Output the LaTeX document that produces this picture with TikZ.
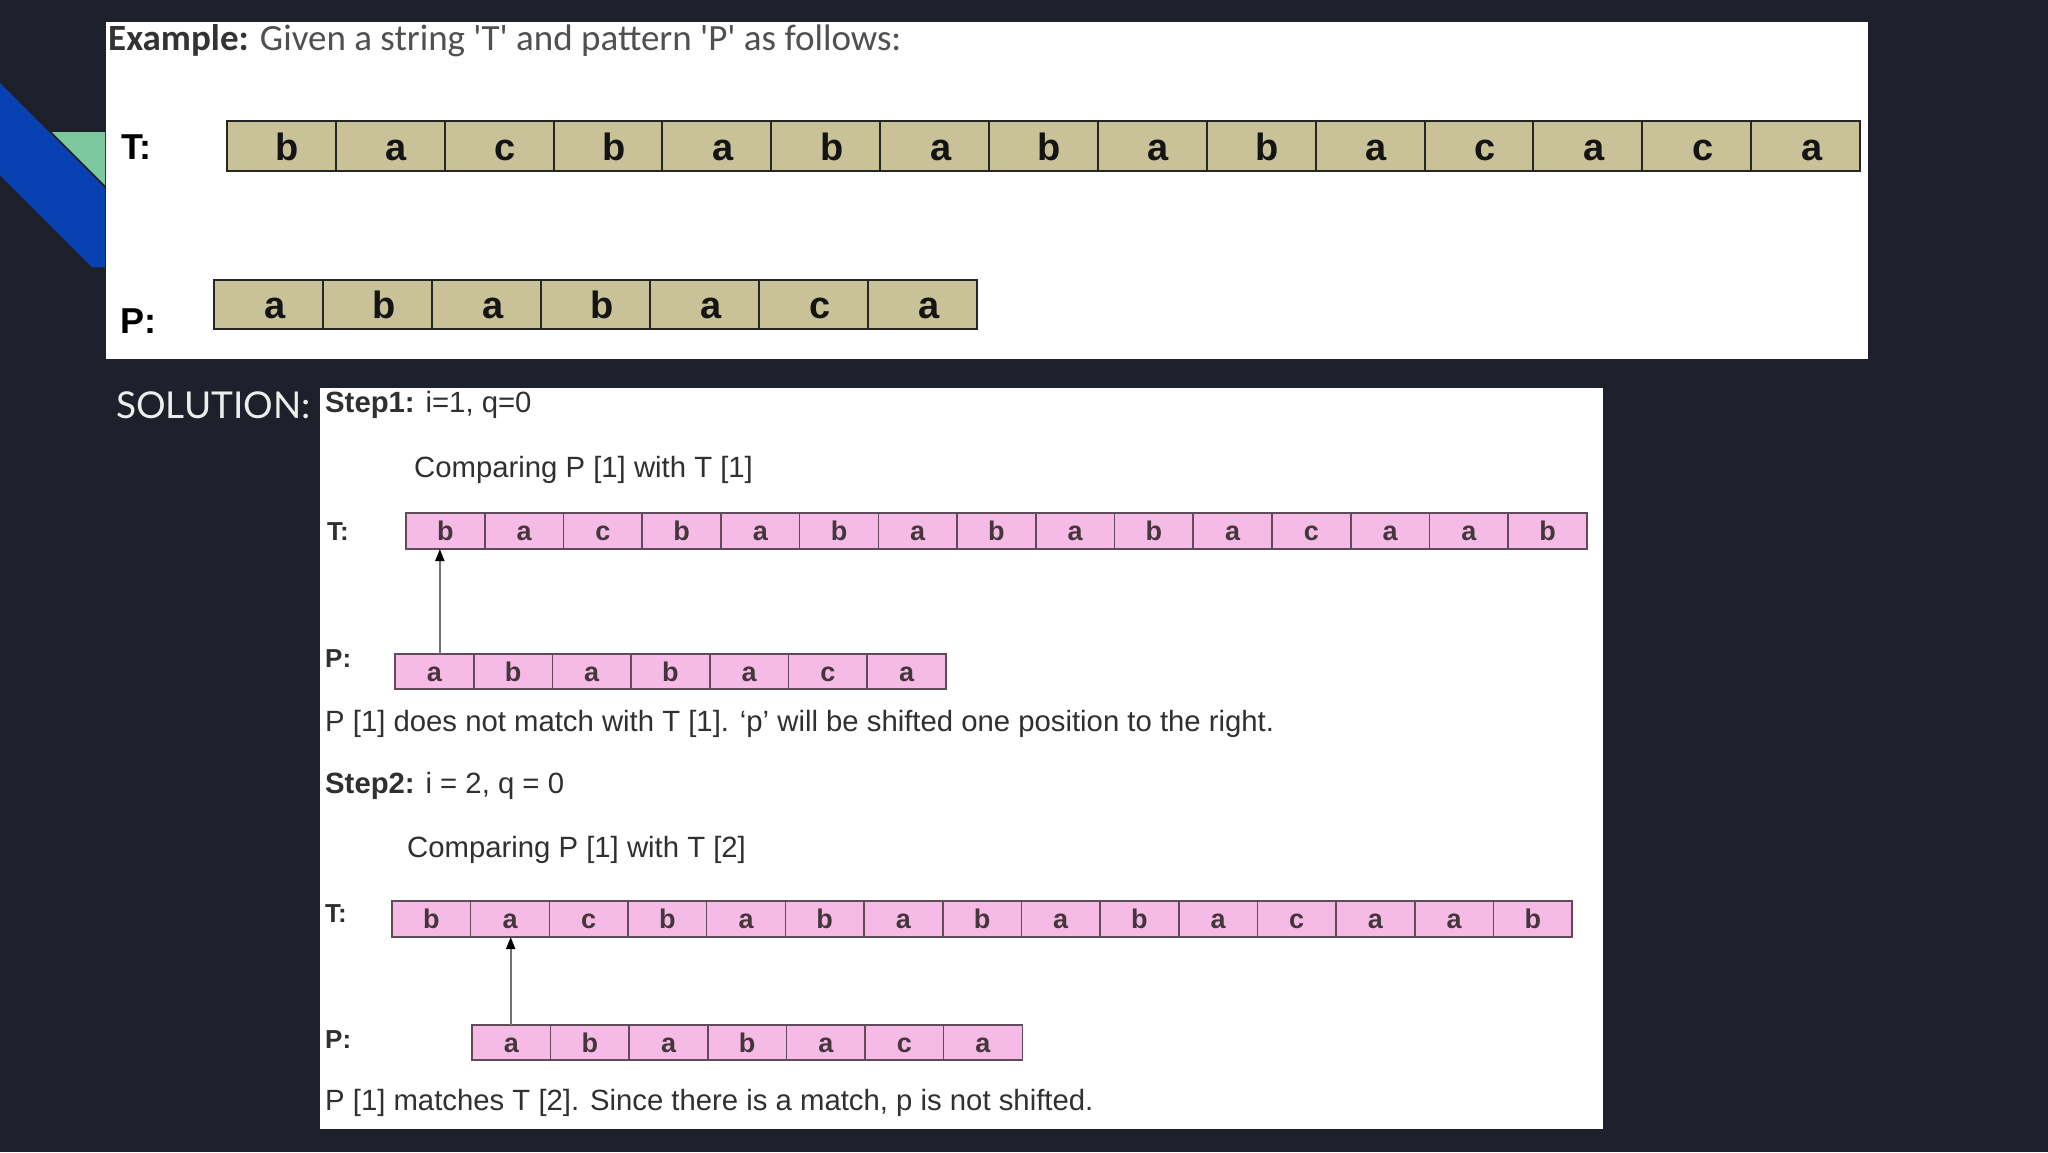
\documentclass[tikz,border=0pt]{standalone}
\usepackage{fontspec}
\setmainfont{Liberation Sans}
\newfontfamily\calfont{Carlito}
\newfontfamily\latofont{Lato}
\usetikzlibrary{arrows.meta,calc}
\definecolor{bgdark}{RGB}{30,33,44}
\definecolor{stripeblue}{RGB}{8,66,178}
\definecolor{stripegreen}{RGB}{126,200,160}
\definecolor{tanfill}{RGB}{201,193,152}
\definecolor{pinkfill}{RGB}{246,186,230}
\definecolor{pinkline}{RGB}{95,75,90}
\definecolor{txtgray}{RGB}{48,48,48}
\definecolor{titlegray}{RGB}{80,80,80}
\begin{document}
\begin{tikzpicture}[x=1pt,y=-1pt,
  tancell/.style={draw=black!85, line width=2pt, fill=tanfill, minimum width=108.9pt,
    minimum height=50pt, inner sep=0pt, outer sep=0pt, anchor=north west,
    text height=28pt, text depth=0pt, font=\fontsize{38}{40}\selectfont\bfseries, text=black!92},
  tanpcell/.style={tancell, minimum height=49pt},
  pinkcell/.style={draw=pinkline, line width=1.6pt, fill=pinkfill, minimum width=78.7pt,
    minimum height=36pt, inner sep=0pt, outer sep=0pt, anchor=north west,
    text height=19pt, text depth=0pt, font=\fontsize{27}{30}\selectfont\bfseries, text=black!85!magenta},
  pinkpcell/.style={pinkcell, minimum height=35pt},
  biglabel/.style={anchor=base west, inner sep=0pt, font=\fontsize{36}{40}\selectfont\bfseries, text=black},
  steplabel/.style={anchor=base west, inner sep=0pt, font=\fontsize{26}{30}\selectfont\bfseries, text=txtgray},
  bodytext/.style={anchor=base west, inner sep=0pt, font=\fontsize{29.3}{34}\selectfont, text=txtgray},
  cmparrow/.style={draw=black!55, line width=1.8pt, -{Triangle[length=12pt,width=9pt,color=black]}}
]
\useasboundingbox (0,0) rectangle (2048,1152);
\fill[bgdark] (0,0) rectangle (2048,1152);
% left decoration
\fill[stripegreen] (52,132) -- (105,132) -- (105,185) -- cycle;
\fill[stripeblue] (0,83) -- (105,188) -- (105,267) -- (92,267) -- (0,175) -- cycle;
% panels
\fill[white] (106,22) rectangle (1868,359);
\fill[white] (320,388) rectangle (1603,1129);

% ---- example panel
\node[anchor=base west, inner sep=0pt, font=\calfont\fontsize{37}{42}\selectfont, text=titlegray] (title) at (108,50)
  {\textbf{\color{black!80}Example:} Given a string \textquotesingle T\textquotesingle\ and pattern \textquotesingle P\textquotesingle\ as follows:};
\node[biglabel] (tlab) at (121,159) {T:};
\node[biglabel] (plab) at (120,333) {P:};
\foreach \ch [count=\i] in {b,a,c,b,a,b,a,b,a,b,a,c,a,c,a}
  \node[tancell] (tt\i) at ({227+(\i-1)*108.87},121) {\hspace*{12pt}\ch};
\foreach \ch [count=\i] in {a,b,a,b,a,c,a}
  \node[tanpcell] (tp\i) at ({214+(\i-1)*109},280) {\hspace*{14pt}\ch};

% ---- solution
\node[anchor=base west, inner sep=0pt, font=\latofont\fontsize{37}{44}\selectfont, text=white!93!black] (sol) at (116,418) {SOLUTION:};

% step 1
\node[bodytext] (st1) at (325,412) {\textbf{Step1:} i=1, q=0};
\node[bodytext] (cmp1) at (414,477) {Comparing P [1] with T [1]};
\node[steplabel] (s1tl) at (327,540) {T:};
\node[steplabel] (s1pl) at (325,667) {P:};
\foreach \ch [count=\i] in {b,a,c,b,a,b,a,b,a,b,a,c,a,a,b}
  \node[pinkcell] (s1t\i) at ({406+(\i-1)*78.73},513) {\ch};
\foreach \ch [count=\i] in {a,b,a,b,a,c,a}
  \node[pinkpcell] (s1p\i) at ({395+(\i-1)*78.7},654) {\ch};
\coordinate (m1) at ($(s1p1.north)!0.5!(s1t1.south)$);
\draw[cmparrow] (s1p1.north -| m1) -- (s1t1.south -| m1);
\node[bodytext] (cap1) at (325,731) {P [1] does not match with T [1]. `p' will be shifted one position to the right.};

% step 2
\node[bodytext] (st2) at (325,793) {\textbf{Step2:} i = 2, q = 0};
\node[bodytext] (cmp2) at (407,857) {Comparing P [1] with T [2]};
\node[steplabel] (s2tl) at (325,922) {T:};
\node[steplabel] (s2pl) at (325,1048) {P:};
\foreach \ch [count=\i] in {b,a,c,b,a,b,a,b,a,b,a,c,a,a,b}
  \node[pinkcell] (s2t\i) at ({392+(\i-1)*78.67},901) {\ch};
\foreach \ch [count=\i] in {a,b,a,b,a,c,a}
  \node[pinkpcell] (s2p\i) at ({472+(\i-1)*78.6},1025) {\ch};
\coordinate (m2) at ($(s2p1.north)!0.5!(s2t2.south)$);
\draw[cmparrow] (s2p1.north -| m2) -- (s2t2.south -| m2);
\node[bodytext] (cap2) at (325,1110) {P [1] matches T [2]. Since there is a match, p is not shifted.};
\end{tikzpicture}
\end{document}
